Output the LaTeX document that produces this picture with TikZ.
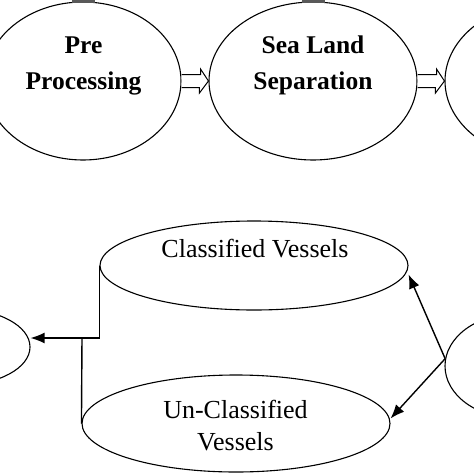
\documentclass[tikz,border=0pt]{standalone}
\usepackage{fontspec}
\setmainfont{Liberation Serif}
\usetikzlibrary{shapes.geometric,arrows.meta}
\begin{document}
\begin{tikzpicture}[x=1pt,y=1pt,
  oval/.style={draw, ellipse, line width=1.1pt, inner sep=0pt},
  toptext/.style={font=\bfseries\fontsize{25.5}{36}\selectfont, align=center, anchor=base, inner sep=0pt},
  bottext/.style={font=\fontsize{26}{32}\selectfont, align=center, anchor=base, inner sep=0pt},
  conn/.style={line width=1.4pt},
  arr/.style={conn, -{Latex[length=14pt,width=11pt]}},
  blockarrow/.style={line width=1pt, fill=white, line join=miter},
  tab/.style={fill=black!65, draw=none}]
\useasboundingbox (0,0) rectangle (474,-474);
\clip (0,0) rectangle (474,-474);
\fill[white] (0,0) rectangle (474,-474);

% top row
\node[oval, minimum width=196pt, minimum height=158pt] (pre) at (83,-81) {};
\node[oval, minimum width=208pt, minimum height=158pt] (sls) at (313,-81) {};
\node[oval, minimum width=208pt, minimum height=158pt] (nxt) at (549,-81) {};
\fill[tab] (72,0) rectangle (95,-2.5);
\fill[tab] (302,0) rectangle (325,-2.5);

\node[toptext] (t1) at (83.5,-89) {Pre\\Processing};
\node[toptext] (t2) at (313,-89) {Sea Land\\Separation};

\draw[blockarrow] ([yshift=6.5pt]pre.east) -- ++(19,0) -- ++(0,5.5) -- (sls.west)
  -- ++(-9,-12) -- ++(0,5.5) -- ([yshift=-6.5pt]pre.east);
\draw[blockarrow] ([yshift=6.5pt]sls.east) -- ++(19,0) -- ++(0,5.5) -- (nxt.west)
  -- ++(-9,-12) -- ++(0,5.5) -- ([yshift=-6.5pt]sls.east);

% bottom part
\node[oval, minimum width=308pt, minimum height=89pt] (cv) at (254,-265.5) {};
\node[oval, minimum width=308pt, minimum height=97pt] (uv) at (236,-423.5) {};
\node[oval, minimum width=140pt, minimum height=76pt] (lb) at (-40,-347) {};
\node[oval, minimum width=140pt, minimum height=104pt] (rb) at (515,-366) {};

\node[bottext] (t3) at (255,-257) {Classified Vessels};
\node[bottext] (t4) at (235.5,-450) {Un-Classified\\Vessels};

\coordinate (j) at (82,-338);
\draw[conn] (cv.west) |- (j);
\draw[conn] (uv.west) -- (j);
\draw[arr] (j) -- (lb.east |- j);
\draw[arr] (rb.174) -- ([yshift=-9pt]cv.east);
\draw[arr] (rb.174) -- ([yshift=5pt]uv.east);
\end{tikzpicture}
\end{document}
